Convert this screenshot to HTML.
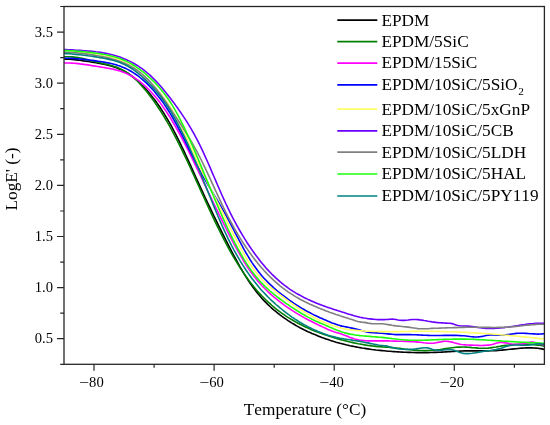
<!DOCTYPE html>
<html><head><meta charset="utf-8"><title>LogE' vs Temperature</title>
<style>html,body{margin:0;padding:0;background:#fff}svg{display:block}text{font-kerning:none;font-family:"Liberation Serif",serif;fill:#000}</style></head>
<body>
<svg width="550" height="425" viewBox="0 0 550 425">
<rect width="550" height="425" fill="#fff"/>
<clipPath id="c"><rect x="64.0" y="6.5" width="480.4" height="357.8"/></clipPath>
<g clip-path="url(#c)" fill="none" stroke-width="1.6" stroke-linejoin="round" stroke-linecap="butt">
<path d="M64.0,59.0 L66.0,59.1 L68.0,59.2 L70.0,59.3 L72.0,59.5 L74.0,59.7 L76.0,59.9 L78.0,60.1 L80.0,60.3 L82.0,60.6 L84.0,60.9 L86.0,61.1 L88.0,61.4 L90.0,61.8 L92.0,62.1 L94.0,62.4 L96.0,62.8 L98.0,63.1 L100.0,63.5 L102.0,63.9 L104.0,64.3 L106.0,64.8 L108.0,65.2 L110.0,65.8 L112.0,66.3 L114.0,67.0 L116.0,67.6 L118.0,68.4 L120.0,69.2 L122.0,70.1 L124.0,71.1 L126.0,72.2 L128.0,73.4 L130.0,74.8 L132.0,76.2 L134.0,77.7 L136.0,79.4 L138.0,81.1 L140.0,83.0 L142.0,85.0 L144.0,87.0 L146.0,89.2 L148.0,91.5 L150.0,93.9 L152.0,96.4 L154.0,98.9 L156.0,101.6 L158.0,104.4 L160.0,107.3 L162.0,110.4 L164.0,113.5 L166.0,116.8 L168.0,120.1 L170.0,123.6 L172.0,127.2 L174.0,131.0 L176.0,134.8 L178.0,138.8 L180.0,142.9 L182.0,147.0 L184.0,151.2 L186.0,155.5 L188.0,159.9 L190.0,164.2 L192.0,168.6 L194.0,173.1 L196.0,177.5 L198.0,181.9 L200.0,186.3 L202.0,190.6 L204.0,195.0 L206.0,199.3 L208.0,203.5 L210.0,207.7 L212.0,211.9 L214.0,216.1 L216.0,220.2 L218.0,224.3 L220.0,228.3 L222.0,232.4 L224.0,236.4 L226.0,240.3 L228.0,244.3 L230.0,248.2 L232.0,252.0 L234.0,255.8 L236.0,259.5 L238.0,263.2 L240.0,266.8 L242.0,270.2 L244.0,273.6 L246.0,276.8 L248.0,280.0 L250.0,283.0 L252.0,285.9 L254.0,288.6 L256.0,291.2 L258.0,293.7 L260.0,296.1 L262.0,298.4 L264.0,300.6 L266.0,302.6 L268.0,304.6 L270.0,306.5 L272.0,308.3 L274.0,310.1 L276.0,311.7 L278.0,313.3 L280.0,314.9 L282.0,316.4 L284.0,317.8 L286.0,319.2 L288.0,320.6 L290.0,321.8 L292.0,323.1 L294.0,324.3 L296.0,325.5 L298.0,326.6 L300.0,327.7 L302.0,328.7 L304.0,329.8 L306.0,330.7 L308.0,331.7 L310.0,332.6 L312.0,333.5 L314.0,334.3 L316.0,335.1 L318.0,335.9 L320.0,336.7 L322.0,337.5 L324.0,338.2 L326.0,338.9 L328.0,339.6 L330.0,340.3 L332.0,340.9 L334.0,341.6 L336.0,342.2 L338.0,342.7 L340.0,343.3 L342.0,343.8 L344.0,344.3 L346.0,344.8 L348.0,345.2 L350.0,345.7 L352.0,346.1 L354.0,346.5 L356.0,346.9 L358.0,347.3 L360.0,347.6 L362.0,348.0 L364.0,348.3 L366.0,348.6 L368.0,348.9 L370.0,349.2 L372.0,349.5 L374.0,349.7 L376.0,350.0 L378.0,350.2 L380.0,350.4 L382.0,350.6 L384.0,350.8 L386.0,351.0 L388.0,351.2 L390.0,351.3 L392.0,351.5 L394.0,351.6 L396.0,351.8 L398.0,351.9 L400.0,352.0 L402.0,352.1 L404.0,352.2 L406.0,352.3 L408.0,352.4 L410.0,352.4 L412.0,352.5 L414.0,352.5 L416.0,352.6 L418.0,352.6 L420.0,352.6 L422.0,352.6 L424.0,352.6 L426.0,352.6 L428.0,352.6 L430.0,352.5 L432.0,352.5 L434.0,352.4 L436.0,352.4 L438.0,352.3 L440.0,352.2 L442.0,352.1 L444.0,352.0 L446.0,351.9 L448.0,351.8 L450.0,351.7 L452.0,351.5 L454.0,351.4 L456.0,351.3 L458.0,351.2 L460.0,351.1 L462.0,351.0 L464.0,350.9 L466.0,350.9 L468.0,350.9 L470.0,350.9 L472.0,350.9 L474.0,350.9 L476.0,350.9 L478.0,350.9 L480.0,350.9 L482.0,350.9 L484.0,350.9 L486.0,350.9 L488.0,350.9 L490.0,350.8 L492.0,350.7 L494.0,350.7 L496.0,350.6 L498.0,350.4 L500.0,350.3 L502.0,350.1 L504.0,349.9 L506.0,349.7 L508.0,349.5 L510.0,349.3 L512.0,349.1 L514.0,348.9 L516.0,348.7 L518.0,348.5 L520.0,348.3 L522.0,348.1 L524.0,348.0 L526.0,347.9 L528.0,347.9 L530.0,347.9 L532.0,347.9 L534.0,348.0 L536.0,348.1 L538.0,348.3 L540.0,348.6 L542.0,348.9 L544.0,349.4 L544.3,349.4" stroke="#000000"/>
<path d="M64.0,56.8 L66.0,56.7 L68.0,56.7 L70.0,56.7 L72.0,56.9 L74.0,57.1 L76.0,57.3 L78.0,57.6 L80.0,58.0 L82.0,58.4 L84.0,58.8 L86.0,59.3 L88.0,59.7 L90.0,60.2 L92.0,60.7 L94.0,61.2 L96.0,61.7 L98.0,62.2 L100.0,62.7 L102.0,63.2 L104.0,63.7 L106.0,64.1 L108.0,64.6 L110.0,65.2 L112.0,65.8 L114.0,66.4 L116.0,67.1 L118.0,67.8 L120.0,68.7 L122.0,69.7 L124.0,70.7 L126.0,71.9 L128.0,73.2 L130.0,74.7 L132.0,76.3 L134.0,78.0 L136.0,79.8 L138.0,81.8 L140.0,83.9 L142.0,86.1 L144.0,88.4 L146.0,90.8 L148.0,93.3 L150.0,95.9 L152.0,98.6 L154.0,101.3 L156.0,104.2 L158.0,107.2 L160.0,110.2 L162.0,113.4 L164.0,116.6 L166.0,120.0 L168.0,123.4 L170.0,126.9 L172.0,130.6 L174.0,134.3 L176.0,138.1 L178.0,142.1 L180.0,146.1 L182.0,150.1 L184.0,154.3 L186.0,158.5 L188.0,162.7 L190.0,167.0 L192.0,171.4 L194.0,175.7 L196.0,180.1 L198.0,184.5 L200.0,188.9 L202.0,193.3 L204.0,197.7 L206.0,202.1 L208.0,206.5 L210.0,210.8 L212.0,215.1 L214.0,219.4 L216.0,223.6 L218.0,227.7 L220.0,231.7 L222.0,235.7 L224.0,239.6 L226.0,243.5 L228.0,247.2 L230.0,250.8 L232.0,254.4 L234.0,257.8 L236.0,261.2 L238.0,264.4 L240.0,267.6 L242.0,270.6 L244.0,273.6 L246.0,276.5 L248.0,279.2 L250.0,281.9 L252.0,284.5 L254.0,287.0 L256.0,289.4 L258.0,291.7 L260.0,293.9 L262.0,296.0 L264.0,298.0 L266.0,300.0 L268.0,301.9 L270.0,303.7 L272.0,305.5 L274.0,307.2 L276.0,308.8 L278.0,310.3 L280.0,311.9 L282.0,313.3 L284.0,314.7 L286.0,316.1 L288.0,317.4 L290.0,318.6 L292.0,319.8 L294.0,321.0 L296.0,322.1 L298.0,323.2 L300.0,324.3 L302.0,325.3 L304.0,326.3 L306.0,327.2 L308.0,328.1 L310.0,329.0 L312.0,329.9 L314.0,330.7 L316.0,331.5 L318.0,332.3 L320.0,333.0 L322.0,333.7 L324.0,334.4 L326.0,335.1 L328.0,335.8 L330.0,336.4 L332.0,337.1 L334.0,337.7 L336.0,338.3 L338.0,338.9 L340.0,339.4 L342.0,340.0 L344.0,340.5 L346.0,341.0 L348.0,341.5 L350.0,342.0 L352.0,342.4 L354.0,342.9 L356.0,343.3 L358.0,343.7 L360.0,344.0 L362.0,344.4 L364.0,344.7 L366.0,345.1 L368.0,345.4 L370.0,345.6 L372.0,345.9 L374.0,346.1 L376.0,346.4 L378.0,346.6 L380.0,346.7 L382.0,346.9 L384.0,347.0 L386.0,347.2 L388.0,347.3 L390.0,347.4 L392.0,347.6 L394.0,347.8 L396.0,348.0 L398.0,348.2 L400.0,348.4 L402.0,348.7 L404.0,349.0 L406.0,349.2 L408.0,349.5 L410.0,349.7 L412.0,349.9 L414.0,350.1 L416.0,350.2 L418.0,350.4 L420.0,350.5 L422.0,350.5 L424.0,350.6 L426.0,350.6 L428.0,350.5 L430.0,350.5 L432.0,350.3 L434.0,350.2 L436.0,350.0 L438.0,349.7 L440.0,349.5 L442.0,349.2 L444.0,348.9 L446.0,348.6 L448.0,348.3 L450.0,348.0 L452.0,347.7 L454.0,347.5 L456.0,347.3 L458.0,347.1 L460.0,347.1 L462.0,347.0 L464.0,347.0 L466.0,347.1 L468.0,347.2 L470.0,347.4 L472.0,347.6 L474.0,347.7 L476.0,347.9 L478.0,348.1 L480.0,348.2 L482.0,348.3 L484.0,348.3 L486.0,348.2 L488.0,348.1 L490.0,347.9 L492.0,347.6 L494.0,347.3 L496.0,347.0 L498.0,346.6 L500.0,346.3 L502.0,345.9 L504.0,345.6 L506.0,345.4 L508.0,345.2 L510.0,344.9 L512.0,344.8 L514.0,344.6 L516.0,344.5 L518.0,344.4 L520.0,344.3 L522.0,344.3 L524.0,344.3 L526.0,344.3 L528.0,344.4 L530.0,344.4 L532.0,344.5 L534.0,344.7 L536.0,344.9 L538.0,345.1 L540.0,345.3 L542.0,345.6 L544.0,345.9 L544.3,346.0" stroke="#007f00"/>
<path d="M64.0,63.0 L66.0,63.0 L68.0,63.0 L70.0,63.0 L72.0,63.1 L74.0,63.3 L76.0,63.4 L78.0,63.6 L80.0,63.9 L82.0,64.1 L84.0,64.4 L86.0,64.6 L88.0,64.9 L90.0,65.2 L92.0,65.6 L94.0,65.9 L96.0,66.2 L98.0,66.5 L100.0,66.9 L102.0,67.2 L104.0,67.5 L106.0,67.9 L108.0,68.2 L110.0,68.6 L112.0,69.0 L114.0,69.4 L116.0,69.9 L118.0,70.5 L120.0,71.1 L122.0,71.7 L124.0,72.5 L126.0,73.3 L128.0,74.2 L130.0,75.2 L132.0,76.3 L134.0,77.5 L136.0,78.8 L138.0,80.2 L140.0,81.7 L142.0,83.3 L144.0,85.0 L146.0,86.9 L148.0,88.8 L150.0,90.8 L152.0,93.0 L154.0,95.2 L156.0,97.6 L158.0,100.1 L160.0,102.6 L162.0,105.4 L164.0,108.2 L166.0,111.1 L168.0,114.2 L170.0,117.3 L172.0,120.6 L174.0,124.0 L176.0,127.4 L178.0,131.0 L180.0,134.7 L182.0,138.4 L184.0,142.2 L186.0,146.1 L188.0,150.0 L190.0,154.1 L192.0,158.1 L194.0,162.2 L196.0,166.3 L198.0,170.5 L200.0,174.7 L202.0,178.9 L204.0,183.1 L206.0,187.3 L208.0,191.5 L210.0,195.6 L212.0,199.8 L214.0,204.0 L216.0,208.1 L218.0,212.2 L220.0,216.3 L222.0,220.4 L224.0,224.4 L226.0,228.4 L228.0,232.4 L230.0,236.3 L232.0,240.1 L234.0,243.9 L236.0,247.6 L238.0,251.2 L240.0,254.7 L242.0,258.1 L244.0,261.5 L246.0,264.7 L248.0,267.7 L250.0,270.7 L252.0,273.5 L254.0,276.2 L256.0,278.7 L258.0,281.2 L260.0,283.5 L262.0,285.7 L264.0,287.8 L266.0,289.8 L268.0,291.8 L270.0,293.6 L272.0,295.4 L274.0,297.1 L276.0,298.7 L278.0,300.3 L280.0,301.9 L282.0,303.4 L284.0,304.9 L286.0,306.3 L288.0,307.7 L290.0,309.0 L292.0,310.3 L294.0,311.6 L296.0,312.9 L298.0,314.1 L300.0,315.3 L302.0,316.4 L304.0,317.6 L306.0,318.7 L308.0,319.8 L310.0,320.8 L312.0,321.8 L314.0,322.8 L316.0,323.8 L318.0,324.8 L320.0,325.7 L322.0,326.6 L324.0,327.6 L326.0,328.5 L328.0,329.5 L330.0,330.3 L332.0,331.1 L334.0,331.8 L336.0,332.4 L338.0,333.0 L340.0,333.6 L342.0,334.3 L344.0,335.1 L346.0,335.8 L348.0,336.6 L350.0,337.4 L352.0,338.1 L354.0,338.8 L356.0,339.4 L358.0,339.8 L360.0,340.2 L362.0,340.4 L364.0,340.6 L366.0,340.8 L368.0,340.9 L370.0,340.9 L372.0,340.9 L374.0,340.9 L376.0,340.9 L378.0,340.9 L380.0,340.9 L382.0,340.8 L384.0,340.9 L386.0,340.9 L388.0,340.9 L390.0,341.0 L392.0,341.0 L394.0,341.1 L396.0,341.1 L398.0,341.2 L400.0,341.3 L402.0,341.3 L404.0,341.4 L406.0,341.4 L408.0,341.5 L410.0,341.6 L412.0,341.7 L414.0,341.8 L416.0,341.9 L418.0,342.1 L420.0,342.3 L422.0,342.5 L424.0,342.8 L426.0,343.0 L428.0,343.2 L430.0,343.3 L432.0,343.2 L434.0,343.1 L436.0,342.8 L438.0,342.4 L440.0,342.0 L442.0,341.6 L444.0,341.3 L446.0,341.2 L448.0,341.4 L450.0,341.7 L452.0,342.1 L454.0,342.7 L456.0,343.2 L458.0,343.7 L460.0,344.2 L462.0,344.5 L464.0,344.7 L466.0,344.9 L468.0,345.0 L470.0,345.1 L472.0,345.1 L474.0,345.2 L476.0,345.3 L478.0,345.4 L480.0,345.5 L482.0,345.5 L484.0,345.4 L486.0,345.3 L488.0,345.1 L490.0,344.9 L492.0,344.5 L494.0,343.9 L496.0,343.3 L498.0,342.8 L500.0,342.4 L502.0,342.4 L504.0,342.6 L506.0,342.9 L508.0,343.3 L510.0,343.7 L512.0,344.0 L514.0,344.2 L516.0,344.3 L518.0,344.3 L520.0,344.2 L522.0,344.0 L524.0,343.6 L526.0,343.1 L528.0,342.6 L530.0,342.2 L532.0,342.1 L534.0,342.3 L536.0,342.8 L538.0,343.4 L540.0,344.0 L542.0,344.5 L544.0,344.8 L544.3,344.8" stroke="#ff00ff"/>
<path d="M64.0,58.2 L66.0,58.2 L68.0,58.2 L70.0,58.3 L72.0,58.4 L74.0,58.5 L76.0,58.7 L78.0,58.8 L80.0,59.0 L82.0,59.2 L84.0,59.4 L86.0,59.6 L88.0,59.8 L90.0,60.1 L92.0,60.3 L94.0,60.6 L96.0,60.9 L98.0,61.2 L100.0,61.5 L102.0,61.8 L104.0,62.1 L106.0,62.5 L108.0,62.9 L110.0,63.3 L112.0,63.8 L114.0,64.3 L116.0,64.8 L118.0,65.5 L120.0,66.1 L122.0,66.9 L124.0,67.7 L126.0,68.6 L128.0,69.6 L130.0,70.7 L132.0,71.8 L134.0,73.1 L136.0,74.5 L138.0,75.9 L140.0,77.5 L142.0,79.1 L144.0,80.9 L146.0,82.7 L148.0,84.6 L150.0,86.7 L152.0,88.8 L154.0,91.1 L156.0,93.4 L158.0,95.9 L160.0,98.4 L162.0,101.1 L164.0,103.9 L166.0,106.9 L168.0,110.0 L170.0,113.2 L172.0,116.5 L174.0,120.0 L176.0,123.6 L178.0,127.3 L180.0,131.1 L182.0,135.0 L184.0,139.0 L186.0,143.0 L188.0,147.1 L190.0,151.1 L192.0,155.1 L194.0,159.1 L196.0,163.1 L198.0,166.9 L200.0,170.7 L202.0,174.4 L204.0,177.9 L206.0,181.4 L208.0,184.8 L210.0,188.2 L212.0,191.5 L214.0,194.8 L216.0,198.1 L218.0,201.5 L220.0,204.9 L222.0,208.3 L224.0,211.8 L226.0,215.4 L228.0,219.1 L230.0,222.8 L232.0,226.6 L234.0,230.5 L236.0,234.3 L238.0,238.1 L240.0,241.9 L242.0,245.6 L244.0,249.3 L246.0,252.8 L248.0,256.2 L250.0,259.5 L252.0,262.6 L254.0,265.5 L256.0,268.3 L258.0,271.0 L260.0,273.5 L262.0,275.9 L264.0,278.2 L266.0,280.3 L268.0,282.4 L270.0,284.4 L272.0,286.2 L274.0,288.1 L276.0,289.8 L278.0,291.5 L280.0,293.1 L282.0,294.7 L284.0,296.2 L286.0,297.7 L288.0,299.2 L290.0,300.6 L292.0,302.0 L294.0,303.4 L296.0,304.7 L298.0,305.9 L300.0,307.2 L302.0,308.4 L304.0,309.5 L306.0,310.7 L308.0,311.8 L310.0,312.8 L312.0,313.9 L314.0,314.9 L316.0,315.8 L318.0,316.7 L320.0,317.7 L322.0,318.6 L324.0,319.5 L326.0,320.3 L328.0,321.2 L330.0,322.1 L332.0,322.9 L334.0,323.6 L336.0,324.3 L338.0,325.0 L340.0,325.6 L342.0,326.1 L344.0,326.5 L346.0,326.9 L348.0,327.3 L350.0,327.7 L352.0,328.1 L354.0,328.6 L356.0,329.1 L358.0,329.6 L360.0,330.1 L362.0,330.7 L364.0,331.2 L366.0,331.7 L368.0,332.1 L370.0,332.4 L372.0,332.6 L374.0,332.8 L376.0,332.9 L378.0,333.0 L380.0,333.2 L382.0,333.3 L384.0,333.5 L386.0,333.7 L388.0,333.9 L390.0,334.1 L392.0,334.3 L394.0,334.5 L396.0,334.6 L398.0,334.6 L400.0,334.6 L402.0,334.6 L404.0,334.6 L406.0,334.6 L408.0,334.6 L410.0,334.6 L412.0,334.7 L414.0,334.8 L416.0,334.8 L418.0,334.9 L420.0,335.0 L422.0,335.1 L424.0,335.2 L426.0,335.3 L428.0,335.4 L430.0,335.5 L432.0,335.5 L434.0,335.5 L436.0,335.5 L438.0,335.5 L440.0,335.5 L442.0,335.5 L444.0,335.4 L446.0,335.4 L448.0,335.4 L450.0,335.4 L452.0,335.4 L454.0,335.4 L456.0,335.4 L458.0,335.5 L460.0,335.6 L462.0,335.7 L464.0,335.8 L466.0,336.0 L468.0,336.2 L470.0,336.5 L472.0,336.7 L474.0,336.9 L476.0,337.0 L478.0,336.9 L480.0,336.7 L482.0,336.4 L484.0,336.0 L486.0,335.5 L488.0,335.2 L490.0,334.9 L492.0,334.8 L494.0,334.9 L496.0,335.1 L498.0,335.2 L500.0,335.3 L502.0,335.3 L504.0,335.2 L506.0,334.9 L508.0,334.6 L510.0,334.3 L512.0,334.0 L514.0,333.7 L516.0,333.4 L518.0,333.3 L520.0,333.2 L522.0,333.2 L524.0,333.3 L526.0,333.4 L528.0,333.5 L530.0,333.7 L532.0,333.8 L534.0,333.9 L536.0,334.0 L538.0,334.1 L540.0,334.0 L542.0,333.9 L544.0,333.7 L544.3,333.7" stroke="#0000ff"/>
<path d="M64.0,50.0 L66.0,50.2 L68.0,50.5 L70.0,50.7 L72.0,51.0 L74.0,51.3 L76.0,51.6 L78.0,51.9 L80.0,52.2 L82.0,52.5 L84.0,52.8 L86.0,53.1 L88.0,53.5 L90.0,53.8 L92.0,54.1 L94.0,54.5 L96.0,54.8 L98.0,55.2 L100.0,55.5 L102.0,55.8 L104.0,56.2 L106.0,56.5 L108.0,56.9 L110.0,57.3 L112.0,57.8 L114.0,58.3 L116.0,58.9 L118.0,59.5 L120.0,60.2 L122.0,61.0 L124.0,61.9 L126.0,62.9 L128.0,64.0 L130.0,65.2 L132.0,66.6 L134.0,68.0 L136.0,69.4 L138.0,71.0 L140.0,72.7 L142.0,74.4 L144.0,76.2 L146.0,78.1 L148.0,80.0 L150.0,82.0 L152.0,84.1 L154.0,86.2 L156.0,88.4 L158.0,90.7 L160.0,93.1 L162.0,95.6 L164.0,98.2 L166.0,100.9 L168.0,103.8 L170.0,106.8 L172.0,110.0 L174.0,113.4 L176.0,116.9 L178.0,120.6 L180.0,124.4 L182.0,128.4 L184.0,132.5 L186.0,136.7 L188.0,141.0 L190.0,145.3 L192.0,149.7 L194.0,154.0 L196.0,158.4 L198.0,162.8 L200.0,167.0 L202.0,171.3 L204.0,175.4 L206.0,179.5 L208.0,183.6 L210.0,187.6 L212.0,191.5 L214.0,195.5 L216.0,199.4 L218.0,203.4 L220.0,207.3 L222.0,211.2 L224.0,215.2 L226.0,219.2 L228.0,223.2 L230.0,227.3 L232.0,231.3 L234.0,235.3 L236.0,239.2 L238.0,243.1 L240.0,246.9 L242.0,250.6 L244.0,254.1 L246.0,257.6 L248.0,260.8 L250.0,264.0 L252.0,266.9 L254.0,269.7 L256.0,272.3 L258.0,274.7 L260.0,277.0 L262.0,279.2 L264.0,281.3 L266.0,283.3 L268.0,285.1 L270.0,286.9 L272.0,288.6 L274.0,290.2 L276.0,291.8 L278.0,293.4 L280.0,294.9 L282.0,296.4 L284.0,297.9 L286.0,299.4 L288.0,300.9 L290.0,302.3 L292.0,303.7 L294.0,305.1 L296.0,306.5 L298.0,307.8 L300.0,309.2 L302.0,310.5 L304.0,311.7 L306.0,312.9 L308.0,314.1 L310.0,315.3 L312.0,316.4 L314.0,317.5 L316.0,318.5 L318.0,319.5 L320.0,320.4 L322.0,321.3 L324.0,322.2 L326.0,323.0 L328.0,323.8 L330.0,324.5 L332.0,325.3 L334.0,325.9 L336.0,326.6 L338.0,327.2 L340.0,327.7 L342.0,328.2 L344.0,328.6 L346.0,329.0 L348.0,329.4 L350.0,329.7 L352.0,329.9 L354.0,330.2 L356.0,330.4 L358.0,330.6 L360.0,330.8 L362.0,330.9 L364.0,331.0 L366.0,331.2 L368.0,331.3 L370.0,331.3 L372.0,331.4 L374.0,331.5 L376.0,331.5 L378.0,331.5 L380.0,331.6 L382.0,331.6 L384.0,331.6 L386.0,331.6 L388.0,331.6 L390.0,331.7 L392.0,331.6 L394.0,331.6 L396.0,331.6 L398.0,331.6 L400.0,331.6 L402.0,331.6 L404.0,331.5 L406.0,331.5 L408.0,331.5 L410.0,331.4 L412.0,331.4 L414.0,331.4 L416.0,331.4 L418.0,331.4 L420.0,331.3 L422.0,331.3 L424.0,331.3 L426.0,331.3 L428.0,331.3 L430.0,331.3 L432.0,331.4 L434.0,331.4 L436.0,331.4 L438.0,331.4 L440.0,331.5 L442.0,331.5 L444.0,331.6 L446.0,331.6 L448.0,331.7 L450.0,331.7 L452.0,331.8 L454.0,331.9 L456.0,331.9 L458.0,332.0 L460.0,332.1 L462.0,332.2 L464.0,332.3 L466.0,332.4 L468.0,332.5 L470.0,332.6 L472.0,332.7 L474.0,332.8 L476.0,332.9 L478.0,333.1 L480.0,333.2 L482.0,333.3 L484.0,333.5 L486.0,333.6 L488.0,333.7 L490.0,333.9 L492.0,334.0 L494.0,334.2 L496.0,334.4 L498.0,334.5 L500.0,334.7 L502.0,334.9 L504.0,335.0 L506.0,335.2 L508.0,335.4 L510.0,335.6 L512.0,335.7 L514.0,335.9 L516.0,336.1 L518.0,336.3 L520.0,336.5 L522.0,336.7 L524.0,336.9 L526.0,337.1 L528.0,337.3 L530.0,337.5 L532.0,337.7 L534.0,337.9 L536.0,338.1 L538.0,338.4 L540.0,338.6 L542.0,338.8 L544.0,339.0 L544.3,339.0" stroke="#ffff66"/>
<path d="M64.0,49.5 L66.0,49.6 L68.0,49.7 L70.0,49.8 L72.0,49.9 L74.0,50.0 L76.0,50.2 L78.0,50.3 L80.0,50.4 L82.0,50.5 L84.0,50.7 L86.0,50.8 L88.0,51.0 L90.0,51.1 L92.0,51.3 L94.0,51.5 L96.0,51.8 L98.0,52.0 L100.0,52.3 L102.0,52.6 L104.0,53.0 L106.0,53.4 L108.0,53.8 L110.0,54.2 L112.0,54.7 L114.0,55.3 L116.0,55.8 L118.0,56.5 L120.0,57.1 L122.0,57.9 L124.0,58.7 L126.0,59.5 L128.0,60.4 L130.0,61.4 L132.0,62.4 L134.0,63.5 L136.0,64.7 L138.0,65.9 L140.0,67.3 L142.0,68.7 L144.0,70.2 L146.0,71.8 L148.0,73.5 L150.0,75.2 L152.0,77.1 L154.0,79.1 L156.0,81.1 L158.0,83.3 L160.0,85.5 L162.0,87.8 L164.0,90.2 L166.0,92.7 L168.0,95.2 L170.0,97.8 L172.0,100.4 L174.0,103.1 L176.0,105.9 L178.0,108.6 L180.0,111.5 L182.0,114.4 L184.0,117.4 L186.0,120.4 L188.0,123.6 L190.0,126.9 L192.0,130.3 L194.0,133.9 L196.0,137.6 L198.0,141.4 L200.0,145.4 L202.0,149.6 L204.0,153.9 L206.0,158.3 L208.0,162.8 L210.0,167.4 L212.0,172.1 L214.0,176.7 L216.0,181.4 L218.0,186.0 L220.0,190.6 L222.0,195.2 L224.0,199.6 L226.0,204.0 L228.0,208.2 L230.0,212.3 L232.0,216.3 L234.0,220.1 L236.0,223.8 L238.0,227.5 L240.0,231.0 L242.0,234.4 L244.0,237.7 L246.0,240.9 L248.0,244.0 L250.0,247.0 L252.0,249.9 L254.0,252.7 L256.0,255.5 L258.0,258.1 L260.0,260.7 L262.0,263.2 L264.0,265.6 L266.0,267.9 L268.0,270.1 L270.0,272.2 L272.0,274.3 L274.0,276.2 L276.0,278.1 L278.0,279.9 L280.0,281.7 L282.0,283.3 L284.0,284.9 L286.0,286.4 L288.0,287.9 L290.0,289.3 L292.0,290.6 L294.0,291.9 L296.0,293.1 L298.0,294.2 L300.0,295.3 L302.0,296.4 L304.0,297.5 L306.0,298.4 L308.0,299.4 L310.0,300.3 L312.0,301.2 L314.0,302.1 L316.0,302.9 L318.0,303.7 L320.0,304.5 L322.0,305.3 L324.0,306.0 L326.0,306.8 L328.0,307.4 L330.0,308.1 L332.0,308.7 L334.0,309.4 L336.0,310.0 L338.0,310.7 L340.0,311.3 L342.0,312.0 L344.0,312.6 L346.0,313.3 L348.0,313.9 L350.0,314.5 L352.0,315.1 L354.0,315.7 L356.0,316.2 L358.0,316.7 L360.0,317.2 L362.0,317.6 L364.0,318.0 L366.0,318.3 L368.0,318.7 L370.0,318.9 L372.0,319.1 L374.0,319.3 L376.0,319.5 L378.0,319.6 L380.0,319.6 L382.0,319.6 L384.0,319.6 L386.0,319.5 L388.0,319.4 L390.0,319.2 L392.0,319.1 L394.0,319.2 L396.0,319.5 L398.0,320.0 L400.0,320.3 L402.0,320.4 L404.0,320.4 L406.0,320.2 L408.0,320.0 L410.0,319.7 L412.0,319.5 L414.0,319.5 L416.0,319.5 L418.0,319.6 L420.0,319.9 L422.0,320.1 L424.0,320.5 L426.0,320.8 L428.0,321.2 L430.0,321.5 L432.0,321.9 L434.0,322.1 L436.0,322.4 L438.0,322.6 L440.0,322.8 L442.0,322.9 L444.0,323.0 L446.0,323.1 L448.0,323.2 L450.0,323.3 L452.0,323.6 L454.0,324.2 L456.0,324.9 L458.0,325.5 L460.0,325.8 L462.0,326.0 L464.0,326.0 L466.0,326.0 L468.0,326.1 L470.0,326.3 L472.0,326.5 L474.0,326.8 L476.0,327.1 L478.0,327.5 L480.0,327.8 L482.0,328.0 L484.0,328.2 L486.0,328.4 L488.0,328.5 L490.0,328.5 L492.0,328.5 L494.0,328.4 L496.0,328.3 L498.0,328.2 L500.0,328.0 L502.0,327.8 L504.0,327.6 L506.0,327.3 L508.0,327.1 L510.0,326.8 L512.0,326.5 L514.0,326.2 L516.0,325.9 L518.0,325.6 L520.0,325.2 L522.0,324.9 L524.0,324.7 L526.0,324.4 L528.0,324.1 L530.0,323.9 L532.0,323.7 L534.0,323.5 L536.0,323.4 L538.0,323.3 L540.0,323.2 L542.0,323.2 L544.0,323.3 L544.3,323.3" stroke="#6a00ff"/>
<path d="M64.0,52.2 L66.0,52.2 L68.0,52.3 L70.0,52.4 L72.0,52.5 L74.0,52.7 L76.0,52.8 L78.0,53.0 L80.0,53.2 L82.0,53.4 L84.0,53.7 L86.0,53.9 L88.0,54.2 L90.0,54.5 L92.0,54.8 L94.0,55.1 L96.0,55.5 L98.0,55.8 L100.0,56.2 L102.0,56.6 L104.0,57.0 L106.0,57.4 L108.0,57.9 L110.0,58.4 L112.0,58.9 L114.0,59.5 L116.0,60.1 L118.0,60.7 L120.0,61.4 L122.0,62.2 L124.0,63.0 L126.0,63.9 L128.0,64.8 L130.0,65.9 L132.0,67.0 L134.0,68.2 L136.0,69.5 L138.0,70.9 L140.0,72.4 L142.0,74.0 L144.0,75.8 L146.0,77.6 L148.0,79.6 L150.0,81.6 L152.0,83.9 L154.0,86.2 L156.0,88.6 L158.0,91.2 L160.0,93.8 L162.0,96.5 L164.0,99.3 L166.0,102.2 L168.0,105.1 L170.0,108.1 L172.0,111.1 L174.0,114.1 L176.0,117.1 L178.0,120.2 L180.0,123.2 L182.0,126.4 L184.0,129.5 L186.0,132.7 L188.0,136.0 L190.0,139.3 L192.0,142.7 L194.0,146.3 L196.0,149.9 L198.0,153.6 L200.0,157.5 L202.0,161.5 L204.0,165.6 L206.0,169.8 L208.0,174.1 L210.0,178.4 L212.0,182.8 L214.0,187.1 L216.0,191.5 L218.0,195.8 L220.0,200.1 L222.0,204.4 L224.0,208.5 L226.0,212.6 L228.0,216.5 L230.0,220.3 L232.0,224.0 L234.0,227.7 L236.0,231.2 L238.0,234.6 L240.0,237.9 L242.0,241.1 L244.0,244.2 L246.0,247.2 L248.0,250.1 L250.0,253.0 L252.0,255.7 L254.0,258.4 L256.0,261.0 L258.0,263.5 L260.0,265.9 L262.0,268.2 L264.0,270.5 L266.0,272.6 L268.0,274.7 L270.0,276.8 L272.0,278.7 L274.0,280.6 L276.0,282.4 L278.0,284.1 L280.0,285.8 L282.0,287.4 L284.0,288.9 L286.0,290.4 L288.0,291.8 L290.0,293.1 L292.0,294.4 L294.0,295.7 L296.0,296.9 L298.0,298.0 L300.0,299.2 L302.0,300.2 L304.0,301.3 L306.0,302.3 L308.0,303.2 L310.0,304.2 L312.0,305.1 L314.0,306.0 L316.0,306.8 L318.0,307.7 L320.0,308.5 L322.0,309.3 L324.0,310.1 L326.0,310.9 L328.0,311.6 L330.0,312.4 L332.0,313.1 L334.0,313.8 L336.0,314.5 L338.0,315.1 L340.0,315.8 L342.0,316.4 L344.0,317.1 L346.0,317.7 L348.0,318.3 L350.0,319.0 L352.0,319.6 L354.0,320.2 L356.0,320.9 L358.0,321.5 L360.0,321.9 L362.0,322.3 L364.0,322.4 L366.0,322.6 L368.0,323.1 L370.0,323.4 L372.0,323.6 L374.0,323.7 L376.0,323.7 L378.0,323.7 L380.0,323.7 L382.0,323.8 L384.0,324.0 L386.0,324.3 L388.0,324.6 L390.0,324.9 L392.0,325.3 L394.0,325.6 L396.0,325.9 L398.0,326.1 L400.0,326.3 L402.0,326.5 L404.0,326.7 L406.0,326.9 L408.0,327.1 L410.0,327.4 L412.0,327.7 L414.0,328.0 L416.0,328.3 L418.0,328.6 L420.0,328.8 L422.0,328.8 L424.0,328.8 L426.0,328.8 L428.0,328.7 L430.0,328.5 L432.0,328.4 L434.0,328.3 L436.0,328.2 L438.0,328.2 L440.0,328.1 L442.0,328.0 L444.0,328.0 L446.0,327.9 L448.0,327.8 L450.0,327.8 L452.0,327.7 L454.0,327.6 L456.0,327.6 L458.0,327.5 L460.0,327.5 L462.0,327.4 L464.0,327.4 L466.0,327.3 L468.0,327.3 L470.0,327.3 L472.0,327.3 L474.0,327.3 L476.0,327.3 L478.0,327.3 L480.0,327.3 L482.0,327.3 L484.0,327.4 L486.0,327.4 L488.0,327.4 L490.0,327.4 L492.0,327.5 L494.0,327.5 L496.0,327.5 L498.0,327.4 L500.0,327.4 L502.0,327.4 L504.0,327.3 L506.0,327.2 L508.0,327.1 L510.0,327.0 L512.0,326.8 L514.0,326.6 L516.0,326.4 L518.0,326.2 L520.0,326.0 L522.0,325.7 L524.0,325.5 L526.0,325.3 L528.0,325.1 L530.0,324.9 L532.0,324.7 L534.0,324.6 L536.0,324.4 L538.0,324.3 L540.0,324.3 L542.0,324.3 L544.0,324.3 L544.3,324.3" stroke="#808080"/>
<path d="M64.0,50.5 L66.0,50.6 L68.0,50.6 L70.0,50.7 L72.0,50.8 L74.0,51.0 L76.0,51.1 L78.0,51.2 L80.0,51.4 L82.0,51.6 L84.0,51.8 L86.0,52.0 L88.0,52.2 L90.0,52.4 L92.0,52.6 L94.0,52.9 L96.0,53.2 L98.0,53.5 L100.0,53.8 L102.0,54.1 L104.0,54.5 L106.0,54.8 L108.0,55.3 L110.0,55.7 L112.0,56.2 L114.0,56.7 L116.0,57.3 L118.0,57.9 L120.0,58.6 L122.0,59.4 L124.0,60.2 L126.0,61.1 L128.0,62.1 L130.0,63.1 L132.0,64.3 L134.0,65.5 L136.0,66.8 L138.0,68.2 L140.0,69.6 L142.0,71.1 L144.0,72.7 L146.0,74.4 L148.0,76.1 L150.0,78.0 L152.0,79.9 L154.0,81.8 L156.0,83.9 L158.0,86.0 L160.0,88.3 L162.0,90.7 L164.0,93.3 L166.0,96.0 L168.0,98.8 L170.0,101.8 L172.0,104.9 L174.0,108.2 L176.0,111.7 L178.0,115.4 L180.0,119.2 L182.0,123.1 L184.0,127.2 L186.0,131.4 L188.0,135.8 L190.0,140.2 L192.0,144.8 L194.0,149.4 L196.0,154.1 L198.0,158.8 L200.0,163.6 L202.0,168.4 L204.0,173.2 L206.0,178.1 L208.0,182.9 L210.0,187.7 L212.0,192.5 L214.0,197.3 L216.0,202.0 L218.0,206.7 L220.0,211.3 L222.0,215.9 L224.0,220.4 L226.0,224.7 L228.0,229.0 L230.0,233.2 L232.0,237.3 L234.0,241.3 L236.0,245.2 L238.0,248.9 L240.0,252.5 L242.0,256.0 L244.0,259.4 L246.0,262.6 L248.0,265.7 L250.0,268.6 L252.0,271.4 L254.0,274.0 L256.0,276.5 L258.0,278.9 L260.0,281.2 L262.0,283.3 L264.0,285.4 L266.0,287.3 L268.0,289.2 L270.0,291.0 L272.0,292.7 L274.0,294.3 L276.0,295.9 L278.0,297.5 L280.0,299.0 L282.0,300.4 L284.0,301.9 L286.0,303.3 L288.0,304.7 L290.0,306.1 L292.0,307.4 L294.0,308.7 L296.0,310.0 L298.0,311.2 L300.0,312.5 L302.0,313.7 L304.0,314.8 L306.0,316.0 L308.0,317.1 L310.0,318.1 L312.0,319.2 L314.0,320.2 L316.0,321.2 L318.0,322.1 L320.0,322.9 L322.0,323.7 L324.0,324.6 L326.0,325.4 L328.0,326.3 L330.0,327.2 L332.0,328.0 L334.0,328.9 L336.0,329.8 L338.0,330.6 L340.0,331.3 L342.0,332.0 L344.0,332.6 L346.0,333.1 L348.0,333.6 L350.0,334.1 L352.0,334.4 L354.0,334.8 L356.0,335.1 L358.0,335.3 L360.0,335.6 L362.0,335.8 L364.0,336.0 L366.0,336.1 L368.0,336.3 L370.0,336.4 L372.0,336.6 L374.0,336.7 L376.0,336.9 L378.0,337.1 L380.0,337.2 L382.0,337.4 L384.0,337.6 L386.0,337.9 L388.0,338.1 L390.0,338.3 L392.0,338.6 L394.0,338.8 L396.0,339.0 L398.0,339.3 L400.0,339.5 L402.0,339.7 L404.0,339.8 L406.0,340.0 L408.0,340.1 L410.0,340.2 L412.0,340.3 L414.0,340.3 L416.0,340.3 L418.0,340.3 L420.0,340.3 L422.0,340.3 L424.0,340.2 L426.0,340.1 L428.0,340.1 L430.0,340.0 L432.0,339.9 L434.0,339.8 L436.0,339.7 L438.0,339.6 L440.0,339.5 L442.0,339.5 L444.0,339.4 L446.0,339.3 L448.0,339.3 L450.0,339.2 L452.0,339.2 L454.0,339.1 L456.0,339.1 L458.0,339.1 L460.0,339.1 L462.0,339.1 L464.0,339.1 L466.0,339.1 L468.0,339.2 L470.0,339.2 L472.0,339.3 L474.0,339.4 L476.0,339.5 L478.0,339.6 L480.0,339.7 L482.0,339.8 L484.0,339.9 L486.0,340.0 L488.0,340.2 L490.0,340.3 L492.0,340.4 L494.0,340.5 L496.0,340.7 L498.0,340.8 L500.0,340.9 L502.0,341.0 L504.0,341.2 L506.0,341.3 L508.0,341.4 L510.0,341.5 L512.0,341.6 L514.0,341.8 L516.0,341.9 L518.0,342.0 L520.0,342.1 L522.0,342.2 L524.0,342.3 L526.0,342.4 L528.0,342.5 L530.0,342.6 L532.0,342.7 L534.0,342.8 L536.0,342.9 L538.0,343.0 L540.0,343.1 L542.0,343.2 L544.0,343.3 L544.3,343.3" stroke="#1cff0c"/>
<path d="M64.0,53.5 L66.0,53.6 L68.0,53.7 L70.0,53.8 L72.0,54.0 L74.0,54.2 L76.0,54.4 L78.0,54.6 L80.0,54.8 L82.0,55.0 L84.0,55.2 L86.0,55.5 L88.0,55.8 L90.0,56.0 L92.0,56.3 L94.0,56.6 L96.0,56.9 L98.0,57.2 L100.0,57.6 L102.0,57.9 L104.0,58.3 L106.0,58.7 L108.0,59.1 L110.0,59.6 L112.0,60.0 L114.0,60.6 L116.0,61.2 L118.0,61.8 L120.0,62.6 L122.0,63.4 L124.0,64.2 L126.0,65.2 L128.0,66.3 L130.0,67.5 L132.0,68.7 L134.0,70.1 L136.0,71.6 L138.0,73.1 L140.0,74.8 L142.0,76.5 L144.0,78.3 L146.0,80.2 L148.0,82.2 L150.0,84.3 L152.0,86.4 L154.0,88.6 L156.0,90.9 L158.0,93.3 L160.0,95.8 L162.0,98.5 L164.0,101.2 L166.0,104.0 L168.0,107.0 L170.0,110.2 L172.0,113.4 L174.0,116.8 L176.0,120.4 L178.0,124.1 L180.0,127.9 L182.0,131.8 L184.0,135.9 L186.0,140.1 L188.0,144.4 L190.0,148.8 L192.0,153.3 L194.0,157.9 L196.0,162.6 L198.0,167.3 L200.0,172.2 L202.0,177.0 L204.0,182.0 L206.0,186.9 L208.0,191.9 L210.0,196.8 L212.0,201.8 L214.0,206.6 L216.0,211.5 L218.0,216.2 L220.0,220.9 L222.0,225.5 L224.0,229.9 L226.0,234.2 L228.0,238.4 L230.0,242.4 L232.0,246.3 L234.0,250.1 L236.0,253.7 L238.0,257.2 L240.0,260.6 L242.0,263.8 L244.0,267.0 L246.0,270.0 L248.0,272.9 L250.0,275.7 L252.0,278.5 L254.0,281.1 L256.0,283.6 L258.0,286.0 L260.0,288.4 L262.0,290.7 L264.0,292.8 L266.0,294.9 L268.0,297.0 L270.0,299.0 L272.0,300.9 L274.0,302.7 L276.0,304.5 L278.0,306.2 L280.0,307.9 L282.0,309.5 L284.0,311.1 L286.0,312.7 L288.0,314.2 L290.0,315.6 L292.0,317.1 L294.0,318.4 L296.0,319.8 L298.0,321.0 L300.0,322.3 L302.0,323.5 L304.0,324.6 L306.0,325.7 L308.0,326.8 L310.0,327.8 L312.0,328.8 L314.0,329.7 L316.0,330.6 L318.0,331.5 L320.0,332.3 L322.0,333.1 L324.0,333.8 L326.0,334.5 L328.0,335.2 L330.0,335.8 L332.0,336.4 L334.0,336.9 L336.0,337.4 L338.0,337.8 L340.0,338.2 L342.0,338.5 L344.0,338.9 L346.0,339.2 L348.0,339.5 L350.0,339.8 L352.0,340.1 L354.0,340.5 L356.0,340.8 L358.0,341.1 L360.0,341.4 L362.0,341.8 L364.0,342.2 L366.0,342.6 L368.0,342.9 L370.0,343.4 L372.0,343.8 L374.0,344.2 L376.0,344.6 L378.0,345.0 L380.0,345.3 L382.0,345.5 L384.0,345.7 L386.0,345.9 L388.0,346.4 L390.0,347.0 L392.0,347.5 L394.0,348.0 L396.0,348.4 L398.0,348.7 L400.0,349.0 L402.0,349.2 L404.0,349.3 L406.0,349.4 L408.0,349.4 L410.0,349.3 L412.0,349.2 L414.0,349.1 L416.0,348.9 L418.0,348.6 L420.0,348.3 L422.0,348.0 L424.0,347.7 L426.0,347.7 L428.0,347.9 L430.0,348.5 L432.0,349.2 L434.0,349.8 L436.0,350.2 L438.0,350.4 L440.0,350.3 L442.0,350.2 L444.0,349.9 L446.0,349.7 L448.0,349.6 L450.0,349.6 L452.0,349.8 L454.0,350.3 L456.0,351.1 L458.0,351.8 L460.0,352.5 L462.0,353.1 L464.0,353.4 L466.0,353.6 L468.0,353.6 L470.0,353.5 L472.0,353.3 L474.0,353.0 L476.0,352.7 L478.0,352.4 L480.0,352.0 L482.0,351.6 L484.0,351.3 L486.0,351.0 L488.0,350.7 L490.0,350.5 L492.0,350.2 L494.0,349.9 L496.0,349.6 L498.0,349.1 L500.0,348.6 L502.0,348.0 L504.0,347.3 L506.0,346.6 L508.0,346.0 L510.0,345.5 L512.0,345.2 L514.0,345.0 L516.0,345.0 L518.0,345.0 L520.0,345.1 L522.0,345.2 L524.0,345.2 L526.0,345.2 L528.0,345.1 L530.0,344.9 L532.0,344.6 L534.0,344.3 L536.0,344.1 L538.0,343.9 L540.0,343.9 L542.0,344.0 L544.0,344.3 L544.3,344.4" stroke="#008080"/>
</g>
<rect x="64.0" y="6.5" width="480.4" height="357.8" fill="none" stroke="#262626" stroke-width="1.3"/>
<path d="M94.0,364.3 v6.5 M154.1,364.3 v3.4 M214.1,364.3 v6.5 M274.2,364.3 v3.4 M334.2,364.3 v6.5 M394.3,364.3 v3.4 M454.3,364.3 v6.5 M514.4,364.3 v3.4 M64.0,364.3 h-3.8 M64.0,338.7 h-7.0 M64.0,313.2 h-3.8 M64.0,287.6 h-7.0 M64.0,262.1 h-3.8 M64.0,236.5 h-7.0 M64.0,211.0 h-3.8 M64.0,185.4 h-7.0 M64.0,159.8 h-3.8 M64.0,134.3 h-7.0 M64.0,108.7 h-3.8 M64.0,83.2 h-7.0 M64.0,57.6 h-3.8 M64.0,32.1 h-7.0 M64.0,6.5 h-3.8" stroke="#262626" stroke-width="1.2" fill="none"/>
<g font-size="14.6">
<text transform="translate(79.1,386.5) scale(1.2,1)">−</text><text x="89.1" y="386.5">80</text>
<text transform="translate(199.2,386.5) scale(1.2,1)">−</text><text x="209.2" y="386.5">60</text>
<text transform="translate(319.3,386.5) scale(1.2,1)">−</text><text x="329.3" y="386.5">40</text>
<text transform="translate(439.4,386.5) scale(1.2,1)">−</text><text x="449.4" y="386.5">20</text>
<text x="53.0" y="343.4" text-anchor="end">0.5</text>
<text x="53.0" y="292.3" text-anchor="end">1.0</text>
<text x="53.0" y="241.2" text-anchor="end">1.5</text>
<text x="53.0" y="190.1" text-anchor="end">2.0</text>
<text x="53.0" y="139.0" text-anchor="end">2.5</text>
<text x="53.0" y="87.9" text-anchor="end">3.0</text>
<text x="53.0" y="36.8" text-anchor="end">3.5</text>
</g>
<text transform="translate(305,415) scale(1.04,1)" font-size="16.6" text-anchor="middle">Temperature (°C)</text>
<text transform="translate(16.6,179.0) rotate(-90) scale(1.04,1)" font-size="16.6" text-anchor="middle">LogE' (-)</text>
<g font-size="16.6">
<path d="M337.3,20.2 H377.3" stroke="#000000" stroke-width="1.7" fill="none"/>
<text transform="translate(381.4,25.5) scale(1.04,1)">EPDM</text>
<path d="M337.3,41.7 H377.3" stroke="#007f00" stroke-width="1.7" fill="none"/>
<text transform="translate(381.4,47.0) scale(1.04,1)">EPDM/5SiC</text>
<path d="M337.3,63.1 H377.3" stroke="#ff00ff" stroke-width="1.7" fill="none"/>
<text transform="translate(381.4,68.4) scale(1.04,1)">EPDM/15SiC</text>
<path d="M337.3,84.8 H377.3" stroke="#0000ff" stroke-width="1.7" fill="none"/>
<text transform="translate(381.4,90.1) scale(1.04,1)">EPDM/10SiC/5SiO<tspan dx="0.6" dy="4.5" font-size="10.8">2</tspan></text>
<path d="M337.3,109.2 H377.3" stroke="#ffff66" stroke-width="1.7" fill="none"/>
<text transform="translate(381.4,114.5) scale(1.04,1)">EPDM/10SiC/5xGnP</text>
<path d="M337.3,130.8 H377.3" stroke="#6a00ff" stroke-width="1.7" fill="none"/>
<text transform="translate(381.4,136.1) scale(1.04,1)">EPDM/10SiC/5CB</text>
<path d="M337.3,152.2 H377.3" stroke="#808080" stroke-width="1.7" fill="none"/>
<text transform="translate(381.4,157.5) scale(1.04,1)">EPDM/10SiC/5LDH</text>
<path d="M337.3,174 H377.3" stroke="#1cff0c" stroke-width="1.7" fill="none"/>
<text transform="translate(381.4,179.3) scale(1.04,1)">EPDM/10SiC/5HAL</text>
<path d="M337.3,196 H377.3" stroke="#008080" stroke-width="1.7" fill="none"/>
<text transform="translate(381.4,201.3) scale(1.04,1)">EPDM/10SiC/5PY119</text>
</g>
</svg>
</body></html>
